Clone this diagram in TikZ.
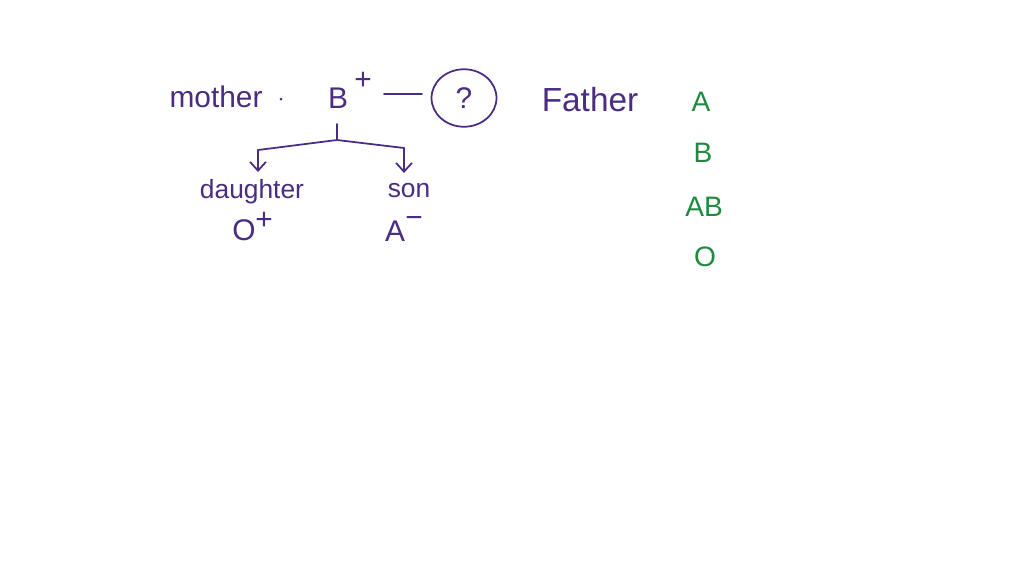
\documentclass[tikz,border=0pt]{standalone}
\usepackage{fontspec}
\setmainfont{Liberation Sans}
\usetikzlibrary{arrows.meta,shapes.geometric}
\definecolor{ink}{HTML}{4A2C80}
\definecolor{grn}{HTML}{1F8A3F}
\begin{document}
\begin{tikzpicture}[x=0.02cm,y=-0.02cm,
  lbl/.style={inner sep=0pt,text=ink,font=\fontsize{17}{20}\selectfont},
  slbl/.style={inner sep=0pt,text=ink,font=\fontsize{15}{18}\selectfont},
  glbl/.style={inner sep=0pt,text=grn,font=\fontsize{16}{19}\selectfont},
  pen/.style={draw=ink,line width=1pt,line cap=round,line join=round},
  arr/.style={pen,-{Straight Barb[length=5pt,width=9pt]}}]
\useasboundingbox[fill=white] (0,0) rectangle (1024,576);
\node[lbl] (mother) at (216,97) {mother};
\fill[ink] (281,99) circle (1.5) coordinate (dot);
\node[lbl] (B) at (338,98) {B};
\node[lbl] (plus) at (363,81) {+};
\node[pen,ellipse,minimum width=1.3cm,minimum height=1.15cm,inner sep=0pt,text=ink,font=\fontsize{17}{20}\selectfont] (q) at (464,98) {?};
\coordinate (dashstart) at (384,94);
\draw[pen] (dashstart) -- (422,94);
\node[lbl,font=\fontsize{19}{22}\selectfont] (father) at (590,100) {Father};
\node[glbl] (gA) at (701,102) {A};
\node[glbl] (gB) at (703,153) {B};
\node[glbl] (gAB) at (704,207) {AB};
\node[glbl] (gO) at (705,257) {O};
\coordinate (top) at (337,124);
\coordinate (mid) at (337,140);
\coordinate (l) at (258,150);
\coordinate (r) at (404,148);
\coordinate (ltip) at (258,172);
\coordinate (rtip) at (404,173);
\node[slbl] (daughter) at (252,192) {daughter};
\node[slbl] (son) at (409,191) {son};
\node[lbl] (Op) at (244,230) {O};
\node[lbl] (Opl) at (264,221) {+};
\node[lbl] (Am) at (395,231) {A};
\node[lbl] (Ami) at (414,222) {\char"2212};
\draw[pen] (top) -- (mid);
\draw[pen] (l) -- (mid) -- (r);
\draw[arr] (l) -- (ltip);
\draw[arr] (r) -- (rtip);
\end{tikzpicture}
\end{document}
